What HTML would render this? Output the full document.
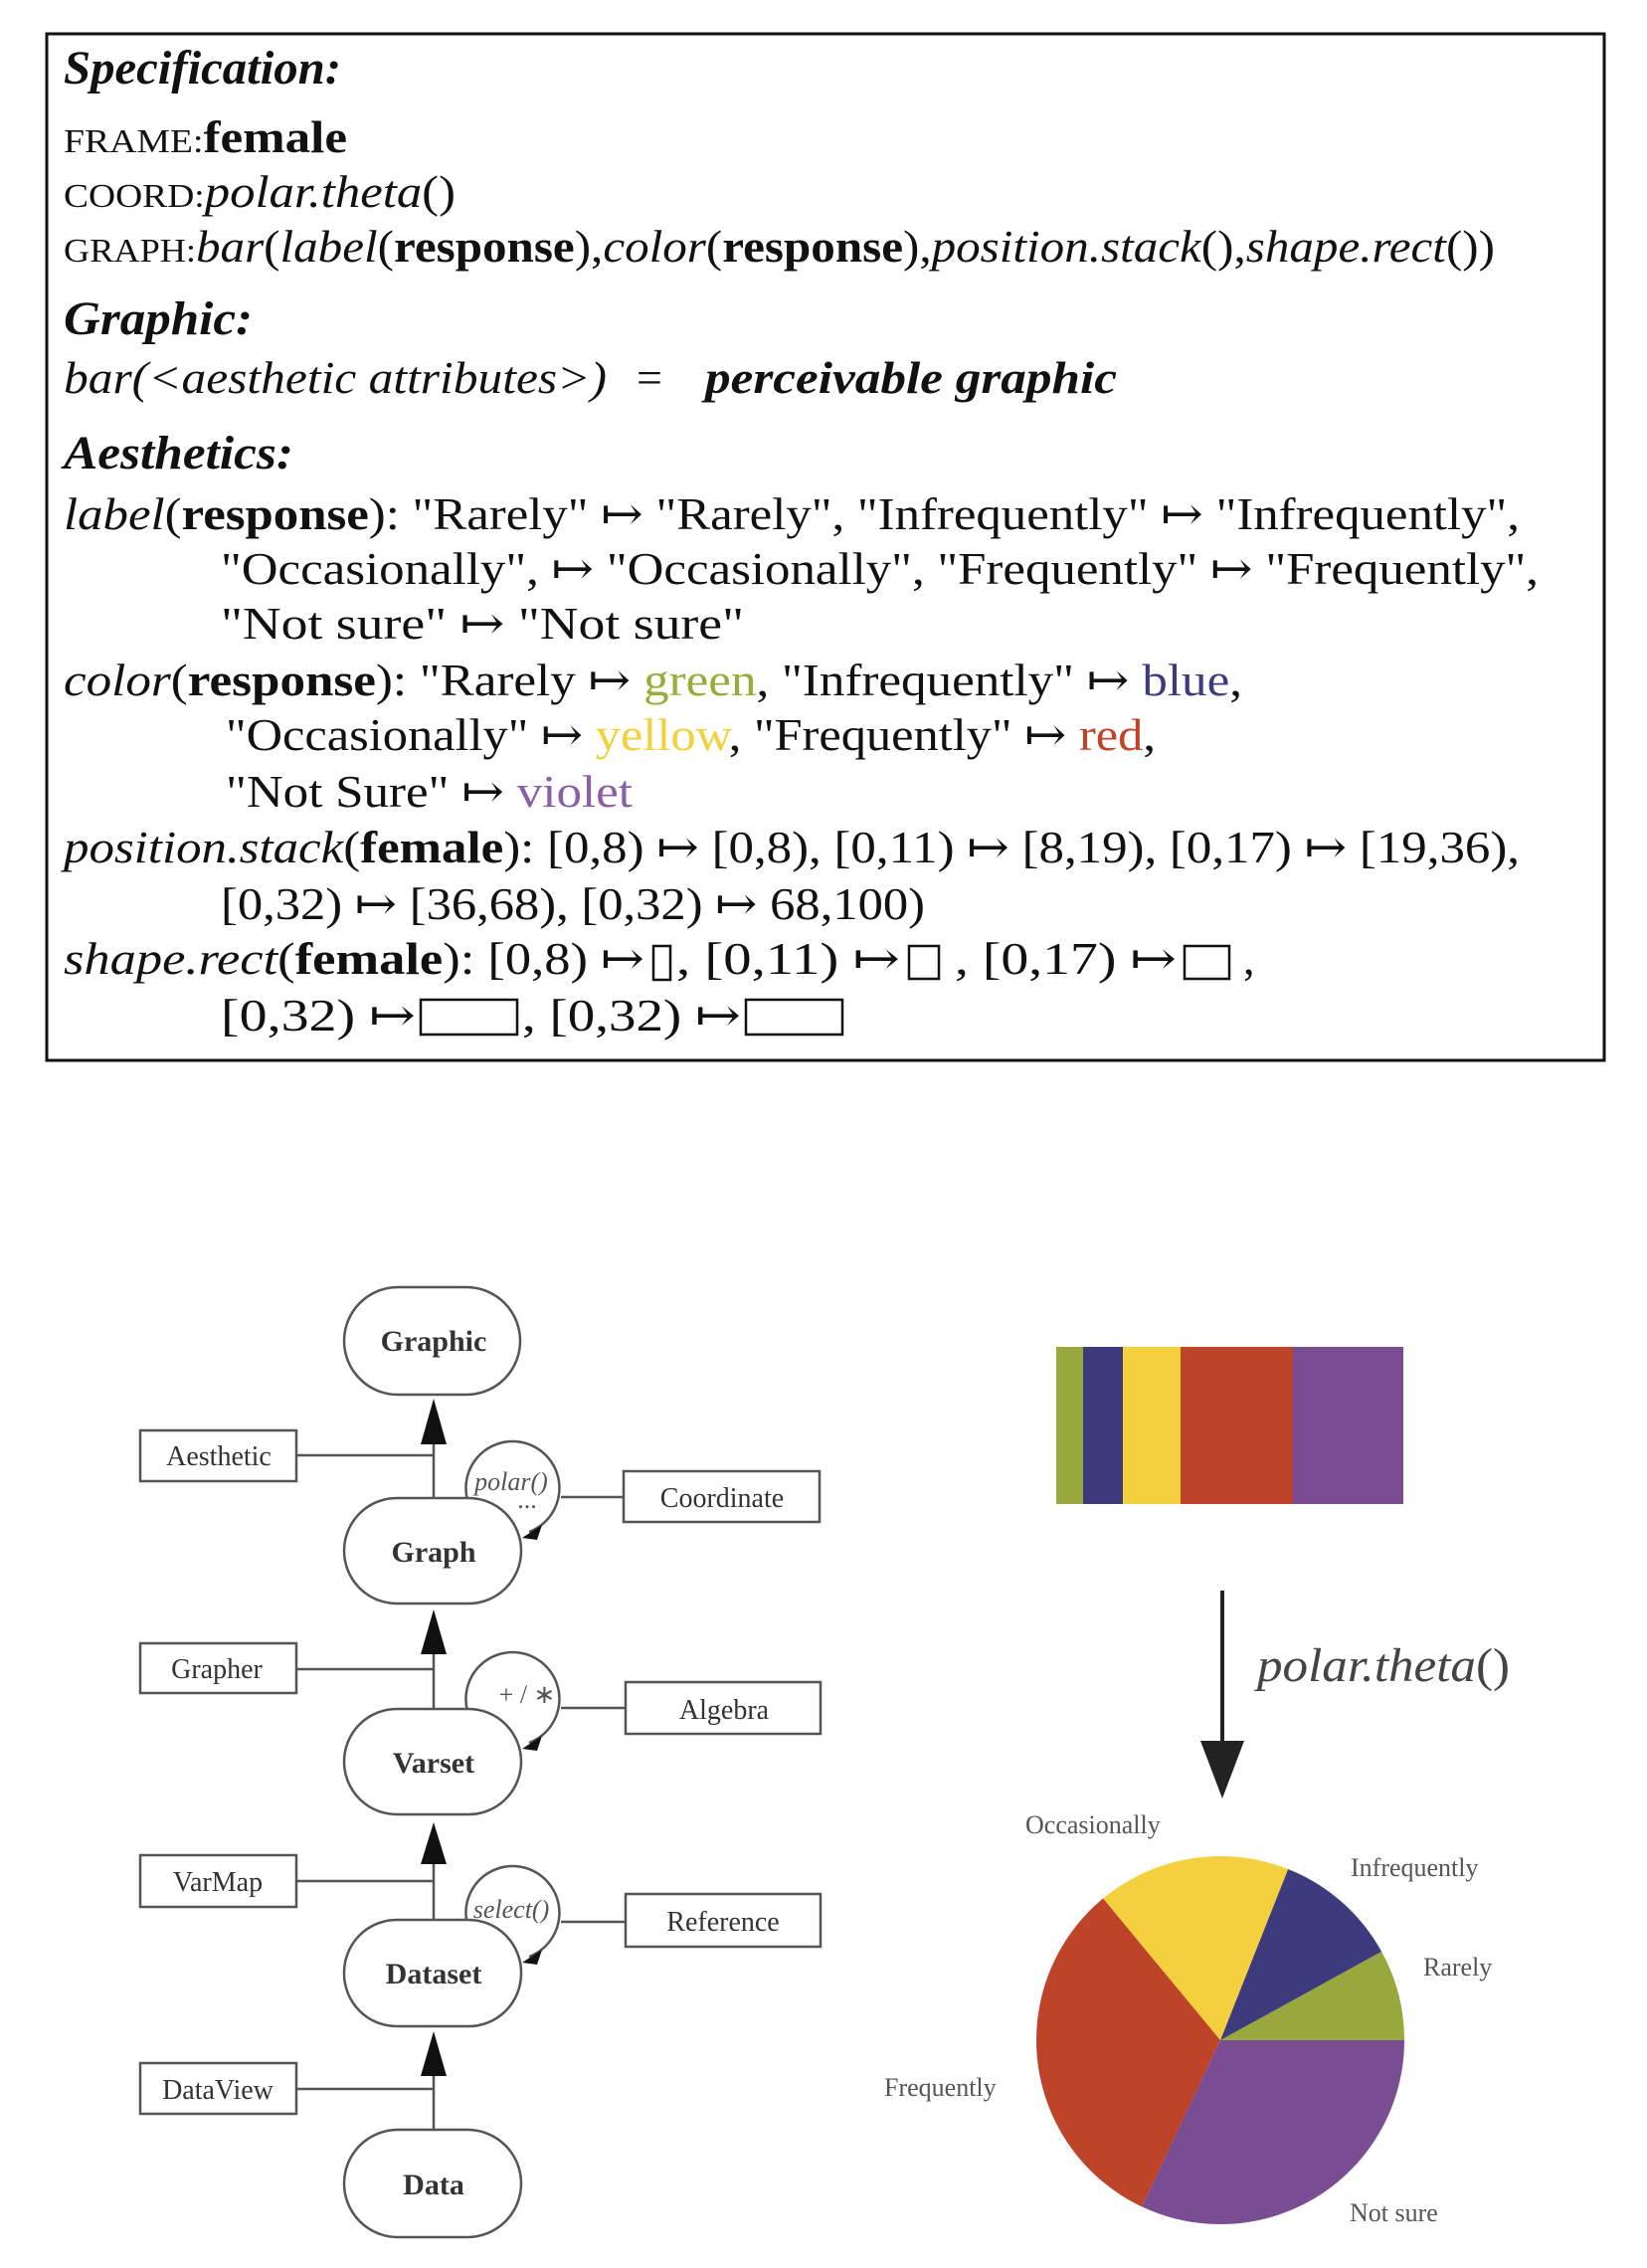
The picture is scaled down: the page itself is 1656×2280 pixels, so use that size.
<!DOCTYPE html>
<html><head><meta charset="utf-8"><style>
html,body{margin:0;padding:0;background:#fff;}
svg{display:block;}
.t{font-family:"Liberation Serif","DejaVu Serif",serif;font-size:46px;fill:#111;}
.b{font-weight:bold;}
.i{font-style:italic;}
.sc{font-size:34px;}
.n{font-family:"Liberation Serif",serif;font-weight:bold;font-size:30px;fill:#333;}
.bx{font-family:"Liberation Serif",serif;font-size:28px;fill:#333;}
.pl{font-family:"Liberation Serif",serif;font-size:26px;fill:#555;}
</style></head><body>
<svg width="1656" height="2280" viewBox="0 0 1656 2280" xmlns="http://www.w3.org/2000/svg">
<rect x="47" y="34" width="1566" height="1032" fill="none" stroke="#111" stroke-width="3"/>
<g class="t" lengthAdjust="spacingAndGlyphs">
<text x="64" y="84" class="b i" font-size="48" textLength="279" lengthAdjust="spacingAndGlyphs">Specification:</text>
<text x="64" y="153" textLength="285" lengthAdjust="spacingAndGlyphs"><tspan class="sc">FRAME:</tspan><tspan class="b">female</tspan></text>
<text x="64" y="208" textLength="394" lengthAdjust="spacingAndGlyphs"><tspan class="sc">COORD:</tspan><tspan class="i">polar.theta</tspan>()</text>
<text x="64" y="263" textLength="1439" lengthAdjust="spacingAndGlyphs"><tspan class="sc">GRAPH:</tspan><tspan class="i">bar</tspan>(<tspan class="i">label</tspan>(<tspan class="b">response</tspan>),<tspan class="i">color</tspan>(<tspan class="b">response</tspan>),<tspan class="i">position.stack</tspan>(),<tspan class="i">shape.rect</tspan>())</text>
<text x="64" y="336" class="b i" font-size="48" textLength="190" lengthAdjust="spacingAndGlyphs">Graphic:</text>
<text x="64" y="395" class="i" textLength="546" lengthAdjust="spacingAndGlyphs">bar(&lt;aesthetic attributes&gt;)</text>
<text x="640" y="395">=</text>
<text x="709" y="395" class="b i" textLength="414" lengthAdjust="spacingAndGlyphs">perceivable graphic</text>
<text x="64" y="471" class="b i" font-size="48" textLength="231" lengthAdjust="spacingAndGlyphs">Aesthetics:</text>
<text x="64" y="532" textLength="1464" lengthAdjust="spacingAndGlyphs"><tspan class="i">label</tspan>(<tspan class="b">response</tspan>): "Rarely" ↦ "Rarely", "Infrequently" ↦ "Infrequently",</text>
<text x="222" y="587" textLength="1325" lengthAdjust="spacingAndGlyphs">"Occasionally", ↦ "Occasionally", "Frequently" ↦ "Frequently",</text>
<text x="222" y="642" textLength="526" lengthAdjust="spacingAndGlyphs">"Not sure"  ↦  "Not sure"</text>
<text x="64" y="699" textLength="1185" lengthAdjust="spacingAndGlyphs"><tspan class="i">color</tspan>(<tspan class="b">response</tspan>): "Rarely ↦ <tspan fill="#9aab3a">green</tspan>, "Infrequently" ↦ <tspan fill="#3d3b80">blue</tspan>,</text>
<text x="227" y="754" textLength="935" lengthAdjust="spacingAndGlyphs">"Occasionally" ↦ <tspan fill="#f2d23a">yellow</tspan>, "Frequently" ↦ <tspan fill="#c0432a">red</tspan>,</text>
<text x="227" y="811" textLength="409" lengthAdjust="spacingAndGlyphs">"Not Sure" ↦ <tspan fill="#8a5fa6">violet</tspan></text>
<text x="64" y="867" textLength="1464" lengthAdjust="spacingAndGlyphs"><tspan class="i">position.stack</tspan>(<tspan class="b">female</tspan>): [0,8) ↦ [0,8), [0,11) ↦ [8,19), [0,17) ↦ [19,36),</text>
<text x="222" y="924" textLength="708" lengthAdjust="spacingAndGlyphs">[0,32) ↦ [36,68), [0,32) ↦ 68,100)</text>
<text x="64" y="979" textLength="584" lengthAdjust="spacingAndGlyphs"><tspan class="i">shape.rect</tspan>(<tspan class="b">female</tspan>): [0,8) ↦</text>
<text x="680" y="979" textLength="225" lengthAdjust="spacingAndGlyphs">, [0,11) ↦</text>
<text x="960" y="979" textLength="223" lengthAdjust="spacingAndGlyphs">, [0,17) ↦</text>
<text x="1250" y="979">,</text>
<text x="222" y="1036" textLength="196" lengthAdjust="spacingAndGlyphs">[0,32) ↦</text>
<text x="525" y="1036" textLength="220" lengthAdjust="spacingAndGlyphs">, [0,32) ↦</text>
</g>
<g fill="none" stroke="#111" stroke-width="2.5">
<rect x="657" y="951" width="17" height="34"/>
<rect x="914" y="951" width="30" height="33"/>
<rect x="1191" y="951" width="45" height="33"/>
<rect x="423" y="1005" width="97" height="35"/>
<rect x="750" y="1005" width="97" height="35"/>
</g>

<!-- left diagram -->
<g stroke="#555" stroke-width="2.5" fill="none">
<line x1="436" y1="1506" x2="436" y2="1452"/>
<line x1="436" y1="1718" x2="436" y2="1663"/>
<line x1="436" y1="1930" x2="436" y2="1874"/>
<line x1="436" y1="2141" x2="436" y2="2087"/>
<line x1="298" y1="1463" x2="436" y2="1463"/>
<line x1="298" y1="1678" x2="436" y2="1678"/>
<line x1="298" y1="1891" x2="436" y2="1891"/>
<line x1="298" y1="2100" x2="436" y2="2100"/>
<line x1="564" y1="1505" x2="627" y2="1505"/>
<line x1="564" y1="1717" x2="629" y2="1717"/>
<line x1="564" y1="1932" x2="629" y2="1932"/>
<rect x="346" y="1294" width="177" height="108" rx="54" fill="#fff"/>
<path d="M470,1508 A47,47 0 1 1 532,1540"/>
<path d="M470,1720 A47,47 0 1 1 532,1752"/>
<path d="M470,1935 A47,47 0 1 1 532,1967"/>
<rect x="346" y="1506" width="178" height="106" rx="53" fill="#fff"/>
<rect x="346" y="1718" width="178" height="106" rx="53" fill="#fff"/>
<rect x="346" y="1930" width="178" height="107" rx="53" fill="#fff"/>
<rect x="346" y="2141" width="178" height="108" rx="54" fill="#fff"/>
<rect x="141" y="1438" width="157" height="51"/>
<rect x="141" y="1652" width="157" height="50"/>
<rect x="141" y="1865" width="157" height="52"/>
<rect x="141" y="2074" width="157" height="51"/>
<rect x="627" y="1479" width="197" height="51"/>
<rect x="629" y="1691" width="196" height="52"/>
<rect x="629" y="1904" width="196" height="53"/>
</g>
<g fill="#111">
<polygon points="436,1406 423,1452 449,1452"/>
<polygon points="436,1618 423,1663 449,1663"/>
<polygon points="436,1832 423,1874 449,1874"/>
<polygon points="436,2042 423,2087 449,2087"/>
<polygon points="525,1546 545,1533 540,1548"/>
<polygon points="525,1758 545,1745 540,1760"/>
<polygon points="525,1973 545,1960 540,1975"/>
</g>
<g text-anchor="middle">
<text x="436" y="1358" class="n">Graphic</text>
<text x="436" y="1570" class="n">Graph</text>
<text x="436" y="1782" class="n">Varset</text>
<text x="436" y="1994" class="n">Dataset</text>
<text x="436" y="2206" class="n">Data</text>
<text x="220" y="1473" class="bx">Aesthetic</text>
<text x="218" y="1687" class="bx">Grapher</text>
<text x="219" y="1901" class="bx">VarMap</text>
<text x="219" y="2110" class="bx">DataView</text>
<text x="726" y="1515" class="bx">Coordinate</text>
<text x="728" y="1728" class="bx">Algebra</text>
<text x="727" y="1941" class="bx">Reference</text>
<text x="514" y="1498" class="pl" font-style="italic" font-size="24">polar()</text>
<text x="530" y="1516" class="pl" font-size="20">...</text>
<text x="530" y="1712" class="pl" font-size="24">+ / ∗</text>
<text x="514" y="1928" class="pl" font-style="italic" font-size="24">select()</text>
</g>

<!-- right side -->
<rect x="1062" y="1354" width="27" height="158" fill="#99a83c"/>
<rect x="1089" y="1354" width="40" height="158" fill="#3d3a7d"/>
<rect x="1129" y="1354" width="58" height="158" fill="#f4d03f"/>
<rect x="1187" y="1354" width="113" height="158" fill="#bd4329"/>
<rect x="1300" y="1354" width="111" height="158" fill="#7a4c92"/>
<line x1="1229" y1="1599" x2="1229" y2="1755" stroke="#222" stroke-width="4"/>
<polygon points="1229,1808 1207,1750 1251,1750" fill="#222"/>
<text x="1264" y="1690" font-family="Liberation Serif,serif" font-size="48" fill="#444" textLength="254" lengthAdjust="spacingAndGlyphs"><tspan font-style="italic">polar.theta</tspan>()</text>
<g>
<path d="M1227,2051 L1412,2051 A185,185 0 0 0 1389.1,1961.9 Z" fill="#99a83c"/>
<path d="M1227,2051 L1389.1,1961.9 A185,185 0 0 0 1295.1,1879 Z" fill="#3d3a7d"/>
<path d="M1227,2051 L1295.1,1879 A185,185 0 0 0 1109.1,1908.5 Z" fill="#f4d03f"/>
<path d="M1227,2051 L1109.1,1908.5 A185,185 0 0 0 1148.2,2218.4 Z" fill="#bd4329"/>
<path d="M1227,2051 L1148.2,2218.4 A185,185 0 0 0 1412,2051 Z" fill="#7a4c92"/>
</g>
<g class="pl">
<text x="1031" y="1843">Occasionally</text>
<text x="1358" y="1886">Infrequently</text>
<text x="1431" y="1986">Rarely</text>
<text x="889" y="2107">Frequently</text>
<text x="1357" y="2233">Not sure</text>
</g>
</svg>
</body></html>
